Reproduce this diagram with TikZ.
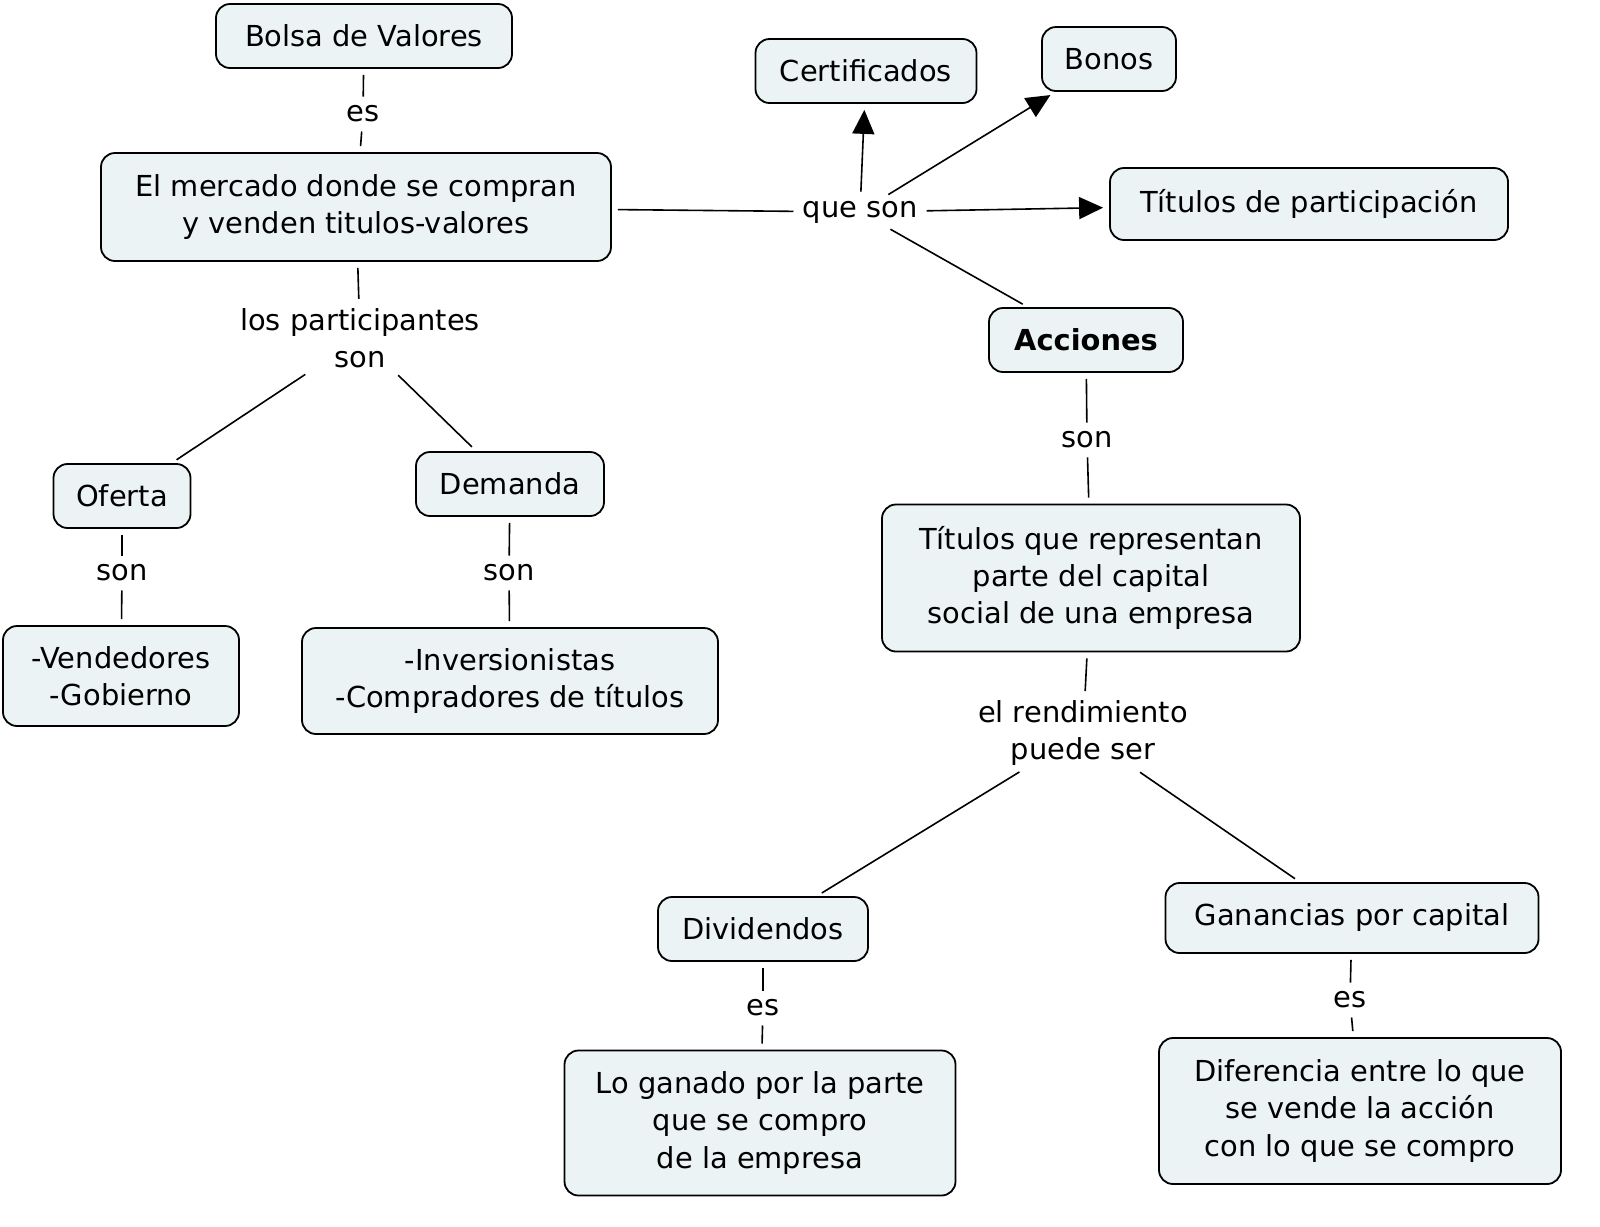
\documentclass[tikz,border=0pt]{standalone}
\usepackage{fontspec}
\setmainfont{DejaVu Sans}
\usetikzlibrary{arrows.meta}
\definecolor{boxfill}{HTML}{EBF3F5}
\begin{document}
\begin{tikzpicture}[x=1bp,y=-1bp,
  box/.style={draw=black,line width=1.8bp,fill=boxfill,rounded corners=14bp,minimum height=64bp,inner sep=0pt,align=center,font=\fontsize{29}{37.5}\selectfont},
  lab/.style={align=center,inner sep=3pt,font=\fontsize{29}{37.5}\selectfont},
  ln/.style={line width=1.6bp,shorten <=6bp,shorten >=6bp},
  ar/.style={ln,-{Triangle[length=24bp,width=22bp]}}]
\useasboundingbox (0,0) rectangle (1600,1226);
\node[box,minimum width=296bp] (bolsa) at (364,36) {Bolsa de Valores};
\node[box,minimum width=510bp,minimum height=108bp] (merc) at (356,207) {El mercado donde se compran\\ y venden titulos-valores};
\node[box,minimum width=221bp] (cert) at (866,71) {Certificados};
\node[box,minimum width=134bp] (bonos) at (1109,59) {Bonos};
\node[box,minimum width=398bp,minimum height=72bp] (tpart) at (1309,204) {Títulos de participación};
\node[box,minimum width=194bp] (acc) at (1086,340) {\textbf{Acciones}};
\node[box,minimum width=418bp,minimum height=147bp] (trep) at (1091,578) {Títulos que representan\\parte del capital\\social de una empresa};
\node[box,minimum width=137bp] (ofer) at (122,496) {Oferta};
\node[box,minimum width=188bp] (dem) at (510,484) {Demanda};
\node[box,minimum width=236bp,minimum height=100bp] (vend) at (121,676) {-Vendedores\\-Gobierno};
\node[box,minimum width=416bp,minimum height=106bp] (inv) at (510,681) {-Inversionistas\\-Compradores de títulos};
\node[box,minimum width=210bp] (div) at (763,929) {Dividendos};
\node[box,minimum width=373bp,minimum height=70bp] (gan) at (1352,918) {Ganancias por capital};
\node[box,minimum width=391bp,minimum height=145bp] (lg) at (760,1123) {Lo ganado por la parte\\que se compro\\de la empresa};
\node[box,minimum width=402bp,minimum height=146bp] (dif) at (1360,1111) {Diferencia entre lo que\\se vende la acción\\con lo que se compro};

\node[lab] (l1) at (363,114) {es};
\node[lab] (l2) at (860,212) {que son};
\node[lab] (l3) at (360,338) {los participantes\\son};
\node[lab] (l4) at (1087,440) {son};
\node[lab] (l5) at (122,573) {son};
\node[lab] (l6) at (509,573) {son};
\node[lab] (l7) at (1083,733) {el rendimiento\\puede ser};
\node[lab] (l8) at (763,1008) {es};
\node[lab] (l9) at (1350,1000) {es};

\draw[ln] (bolsa) -- (l1); \draw[ln] (l1) -- (merc);
\draw[ln] (merc) -- (l2);
\draw[ar] (l2) -- (cert);
\draw[ar] (l2) -- (bonos);
\draw[ar] (l2) -- (tpart);
\draw[ln] (l2) -- (acc);
\draw[ln] (merc) -- (l3);
\draw[ln] (l3) -- (ofer); \draw[ln] (l3) -- (dem);
\draw[ln] (ofer) -- (l5); \draw[ln] (l5) -- (vend);
\draw[ln] (dem) -- (l6); \draw[ln] (l6) -- (inv);
\draw[ln] (acc) -- (l4); \draw[ln] (l4) -- (trep);
\draw[ln] (trep) -- (l7);
\draw[ln] (l7) -- (div); \draw[ln] (l7) -- (gan);
\draw[ln] (div) -- (l8); \draw[ln] (l8) -- (lg);
\draw[ln] (gan) -- (l9); \draw[ln] (l9) -- (dif);
\end{tikzpicture}
\end{document}
